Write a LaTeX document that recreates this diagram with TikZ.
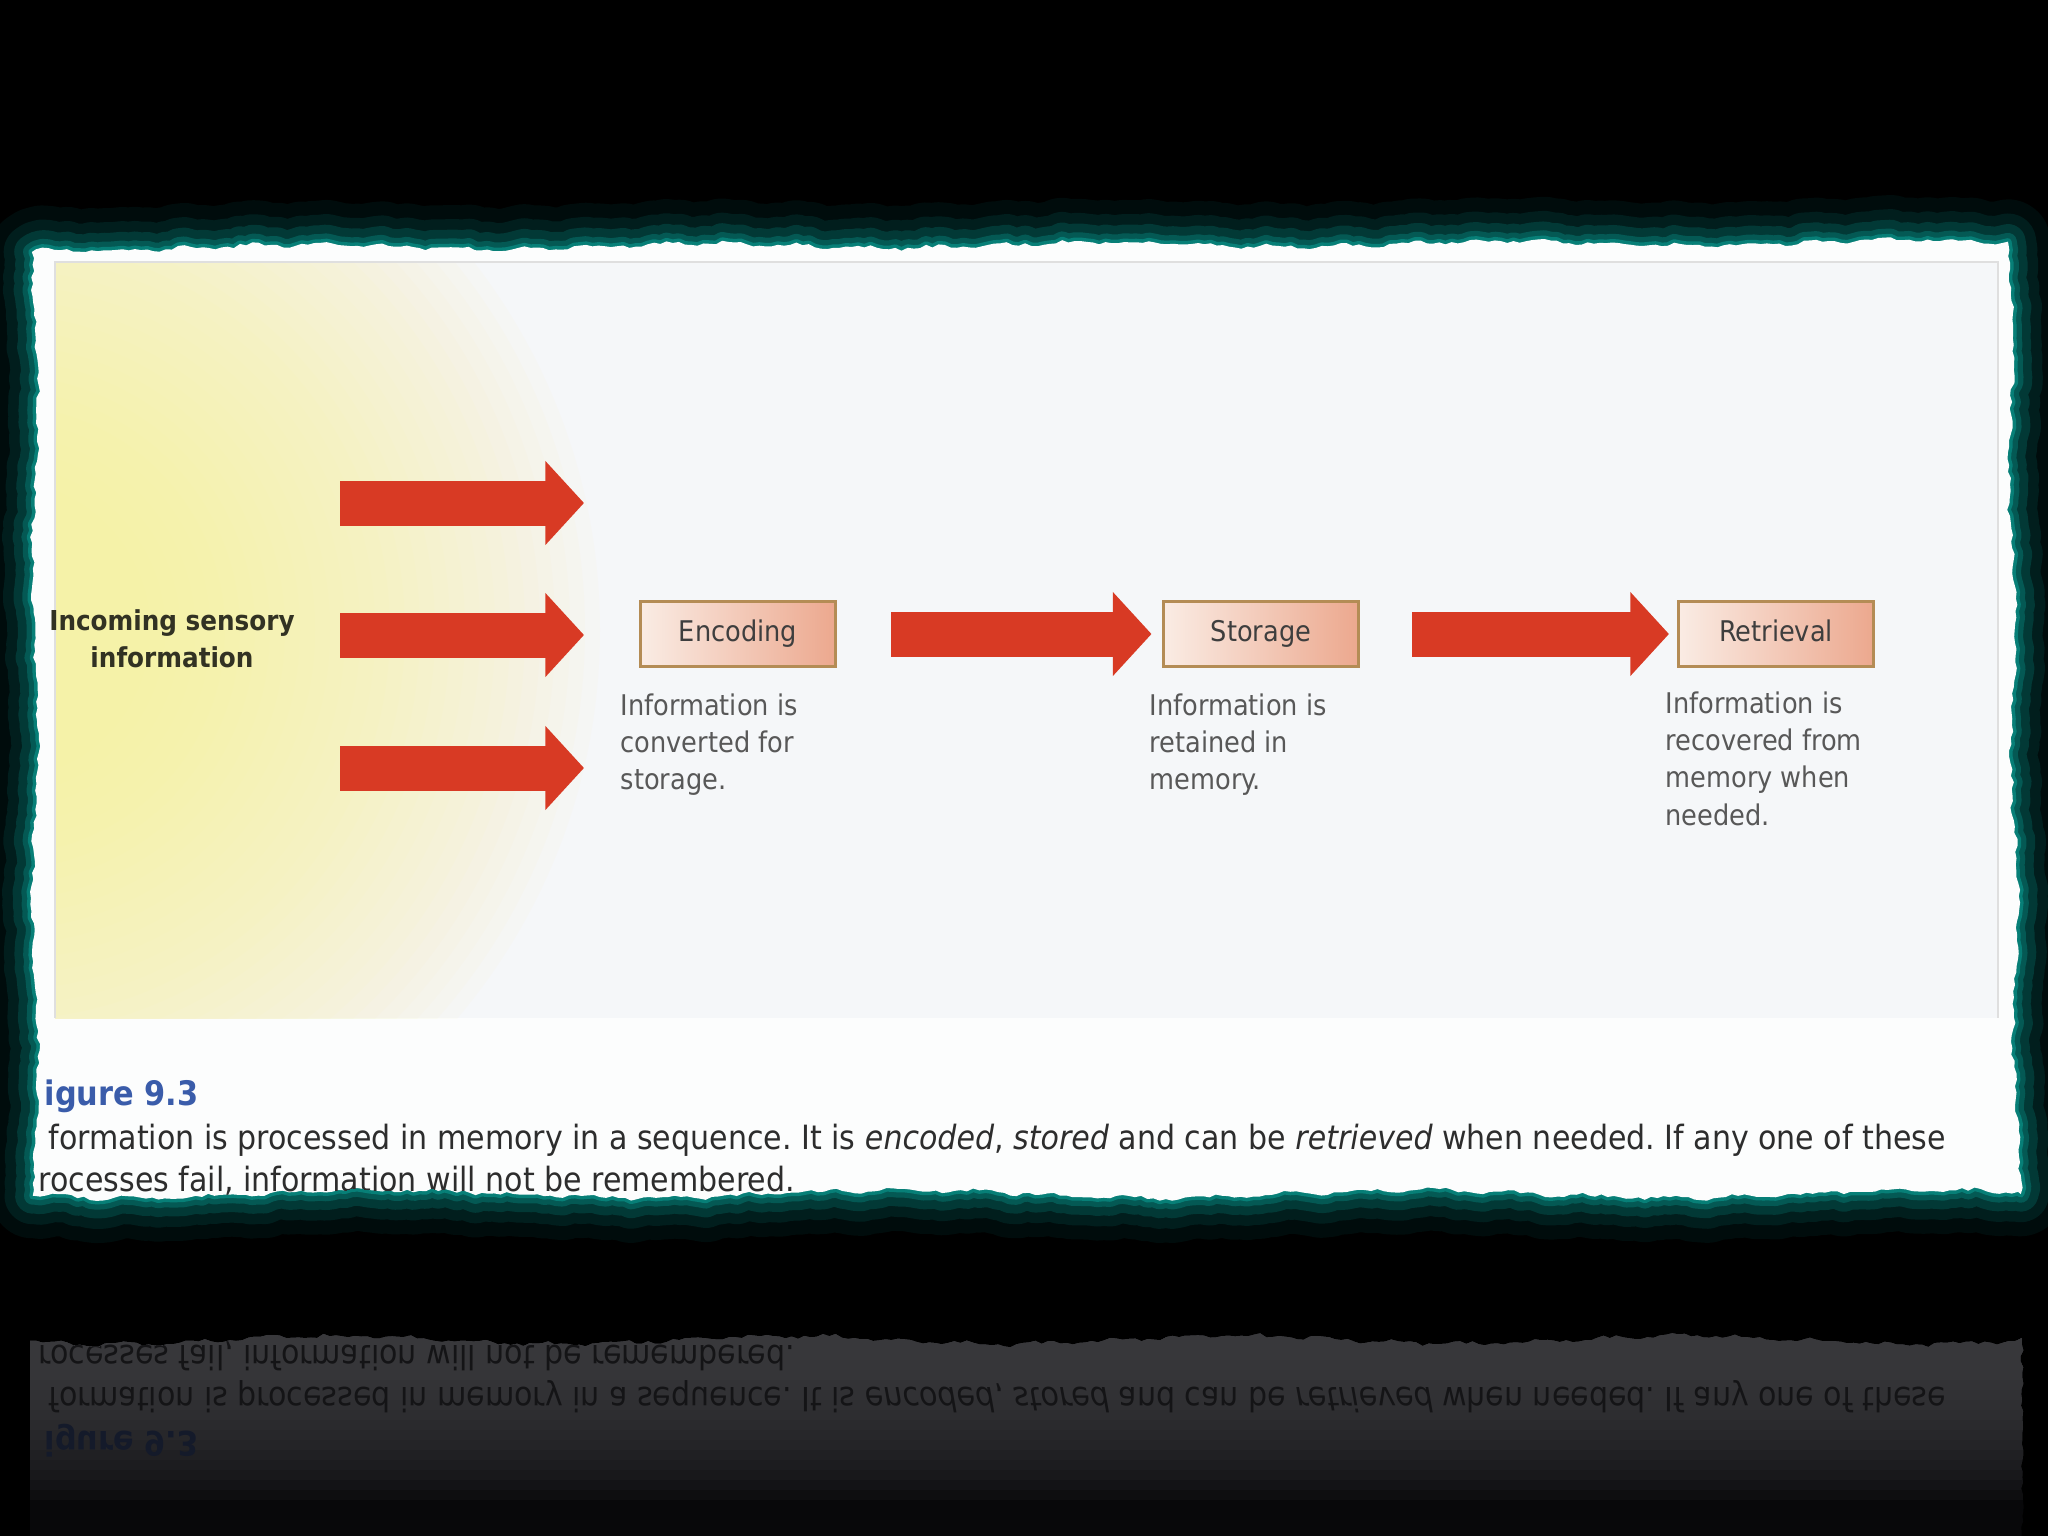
\documentclass[tikz,border=0pt]{standalone}
\usepackage{fontspec}
\setmainfont{DejaVu Sans Condensed}
\usepackage{xcolor}
\usetikzlibrary{arrows.meta}
\frenchspacing

\definecolor{arrowred}{RGB}{216,58,36}
\definecolor{boxedge}{RGB}{180,140,85}
\definecolor{boxlight}{RGB}{250,236,228}
\definecolor{boxdark}{RGB}{236,168,142}
\definecolor{notegray}{RGB}{88,88,88}
\definecolor{labelgray}{RGB}{62,62,62}
\definecolor{sensegray}{RGB}{50,50,35}
\definecolor{panelbg}{RGB}{245,247,249}
\definecolor{paperwhite}{RGB}{252,253,253}
\definecolor{yglow}{RGB}{246,242,150}
\definecolor{glowteal}{RGB}{10,165,155}
\definecolor{capblue}{RGB}{58,92,170}
\definecolor{captext}{RGB}{45,45,45}
\definecolor{reflecttop}{RGB}{72,72,75}
\definecolor{reflectbottom}{RGB}{8,8,10}
\definecolor{reflecttext}{RGB}{20,20,22}
\definecolor{reflectblue}{RGB}{20,26,42}

\tikzset{
  fatarrow/.style={arrowred, line width=12.8pt, -{Triangle[length=11pt 0, width=23.3pt 0]}},
  stagebox/.style={draw=boxedge, line width=0.8pt, left color=boxlight, right color=boxdark,
    minimum width=1.95cm, minimum height=0.65cm, inner sep=0pt, text=labelgray,
    text height=6.3pt, text depth=1.8pt, font=\fontsize{8.1}{10}\selectfont},
  note/.style={anchor=north west, align=left, inner sep=0pt, text=notegray,
    font=\fontsize{8.1}{10.6}\selectfont},
  sense/.style={anchor=north, align=center, inner sep=0pt, text=sensegray,
    font=\bfseries\fontsize{7.8}{10.5}\selectfont},
  capline/.style={anchor=base west, inner sep=0pt, text=captext, font=\fontsize{9.5}{12}\selectfont},
  capnum/.style={anchor=base west, inner sep=0pt, text=capblue, font=\bfseries\fontsize{9.6}{12}\selectfont},
}

% torn sheet and its mirror image (call \pgfmathsetseed first, so every copy is the same)
\newcommand{\paperoutline}{plot[domain=36:2008, samples=320] ({\x}, {248-0.003*\x+2.5*sin(0.9*\x)+1.5*sin(5.3*\x)+1.6*rand})
  -- plot[domain=250:1194, samples=150] ({2010+0.008*(\x-250)+3*sin(1.3*\x)+1.2*sin(6.1*\x)+1.5*rand}, {\x})
  -- plot[domain=2018:34, samples=320] ({\x}, {1194+4*sin(0.7*\x)+1.5*sin(4.7*\x)+1.8*rand})
  -- plot[domain=1196:252, samples=150] ({35+3*sin(1.1*\x)+1.2*sin(5.9*\x)+1.5*rand}, {\x}) -- cycle}
\newcommand{\mirroroutline}{plot[domain=30:2022, samples=320] ({\x}, {1340+4*sin(0.8*\x)+1.5*sin(5.1*\x)+1.8*rand})
  -- plot[domain=1345:1560, samples=40] ({2022+1.5*rand}, {\x})
  -- (30,1560) -- cycle}

\begin{document}
\begin{tikzpicture}[x=0.01cm, y=-0.01cm]
	\useasboundingbox (0,0) rectangle (2048,1536);
	\fill[black] (0,0) rectangle (2048,1536);

	% reflection, lighter at the top
	\begin{scope}
		\pgfmathsetseed{31}
		\clip \mirroroutline;
		\fill[reflectbottom] (0,1300) rectangle (2048,1560);
		\foreach \y in {1350,1360,...,1500}
			\fill[reflecttop, opacity=0.1] (0,1300) rectangle (2048,\y);
		\begin{scope}[shift={(0,2536)}, yscale=-1, transform shape]
			\node[capnum, text=reflectblue] (rfignum) at (44,1105) {igure 9.3};
			\node[capline, text=reflecttext] (rcapa) at (48,1149) {formation is processed in memory in a sequence. It is \emph{encoded}, \emph{stored} and can be \emph{retrieved} when needed. If any one of these};
			\node[capline, text=reflecttext] (rcapb) at (38,1191) {rocesses fail, information will not be remembered.};
		\end{scope}
	\end{scope}

	% glow and sheet
	\foreach \w/\o in {24/0.08, 16/0.12, 10/0.2, 5/0.3, 2/0.5}{
		\pgfmathsetseed{7}
		\draw[glowteal, line width=\w pt, opacity=\o, line join=round] \paperoutline;
	}
	\pgfmathsetseed{7}
	\fill[paperwhite] \paperoutline;

	\begin{scope}
		\pgfmathsetseed{7}
		\clip \paperoutline;
		\fill[panelbg] (55,262) rectangle (1998,1018);
		\begin{scope}
			\clip (55,262) rectangle (1998,1018);
			\foreach \r in {600,585,...,150}
				\fill[yglow, opacity=0.045] (0,630) circle (\r);
		\end{scope}
		\draw[gray!25, line width=0.3pt] (55,1018) -- (55,262) -- (1998,262) -- (1998,1018);

		\node[capnum] (fignum) at (44,1105) {igure 9.3};
		\node[capline] (capa) at (48,1149) {formation is processed in memory in a sequence. It is \emph{encoded}, \emph{stored} and can be \emph{retrieved} when needed. If any one of these};
		\node[capline] (capb) at (38,1191) {rocesses fail, information will not be remembered.};
	\end{scope}

	\node[sense] (incoming) at (172,609) {Incoming sensory\\information};
	\coordinate (from1) at (340,503);
	\coordinate (to1) at (584,503);
	\coordinate (from2) at (340,635);
	\coordinate (to2) at (584,635);
	\coordinate (from3) at (340,768);
	\coordinate (to3) at (584,768);
	\draw[fatarrow] (from1) -- (to1);
	\draw[fatarrow] (from2) -- (to2);
	\draw[fatarrow] (from3) -- (to3);

	\node[stagebox] (enc) at (738,634) {Encoding};
	\node[stagebox] (sto) at (1261,634) {Storage};
	\node[stagebox] (ret) at (1776,634) {Retrieval};
	\draw[fatarrow, shorten <=15.5pt, shorten >=3pt] (enc) -- (sto);
	\draw[fatarrow, shorten <=14.8pt, shorten >=2.3pt] (sto) -- (ret);

	\node[note] (encnote) at (620,693) {Information is\\converted for\\storage.};
	\node[note] (stonote) at (1149,693) {Information is\\retained in\\memory.};
	\node[note] (retnote) at (1665,691) {Information is\\recovered from\\memory when\\needed.};
\end{tikzpicture}
\end{document}
